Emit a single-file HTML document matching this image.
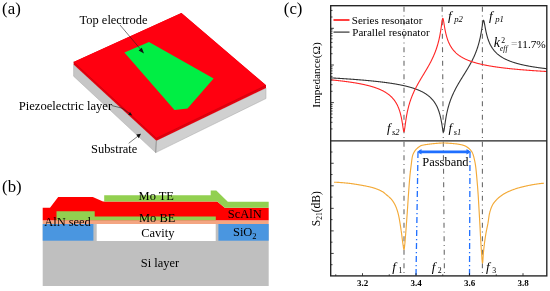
<!DOCTYPE html>
<html><head><meta charset="utf-8"><title>Figure</title>
<style>
html,body{margin:0;padding:0;background:#fff;}
svg{display:block;font-family:"Liberation Serif",serif;fill:#000;}
.lbl{font-size:16.8px;}
.t{font-size:12.45px;}
.it{font-style:italic;}
</style></head><body>
<svg width="550" height="291" viewBox="0 0 550 291">
<rect width="550" height="291" fill="#fff"/>

<!-- (a) 3D view -->
<g id="pa">
<polygon points="73.6,64.5 73.6,76.2 155.7,152.6 156.4,140.5" fill="#c6c6c6" stroke="#a8a8a8" stroke-width="0.5"/>
<polygon points="156.4,140.5 155.7,152.6 266,98.5 266,88" fill="#d0d0d0" stroke="#a8a8a8" stroke-width="0.5"/>
<polygon points="73.6,62 73.6,64.5 156.4,140.7 266,88 266,85.3 181.4,13" fill="#e2000d"/>
<polygon points="73.6,62 181.4,13 266,85.3 156.4,138.2" fill="#ff0010"/>
<polyline points="73.6,62 156.4,138.2 266,85.3" fill="none" stroke="#b8000c" stroke-width="0.5"/>
<polygon points="124.4,52.5 149,42 213.6,78.6 187.5,108.5 174.5,110" fill="#00ee44"/>
<line x1="156.4" y1="140.5" x2="155.7" y2="152.6" stroke="#808080" stroke-width="0.6"/>
<g stroke="#222" stroke-width="0.6" fill="none">
<line x1="120" y1="25" x2="142" y2="51"/>
<line x1="112" y1="105.6" x2="122" y2="108.2"/><line x1="122" y1="108.2" x2="130" y2="113.8"/>
<line x1="128.7" y1="143.3" x2="139" y2="135.3"/>
</g>
<polygon points="144,53.5 138.6,50.5 141.8,47.8" fill="#111"/>
<polygon points="132.3,115.6 128.2,114.8 130,112" fill="#111"/>
<polygon points="141,133.8 138.8,138.3 136.2,134.6" fill="#111"/>
<text class="lbl" x="2.1" y="13.6">(a)</text>
<text class="t" x="79.6" y="23.7">Top electrode</text>
<text class="t" x="18.7" y="110.1" style="font-size:12.62px">Piezoelectric layer</text>
<text class="t" x="91" y="153">Substrate</text>
</g>

<!-- (b) cross-section -->
<g id="pb">
<rect x="42.7" y="224" width="226" height="62" fill="#bfbfbf"/>
<rect x="42.7" y="224" width="50.7" height="16.7" fill="#4a96e0"/>
<rect x="218.4" y="224" width="50.3" height="16.7" fill="#4a96e0"/>
<rect x="96.7" y="224" width="119" height="17" fill="#fff"/>
<rect x="42.7" y="220.2" width="226" height="3.8" fill="#f4a582"/>
<!-- ScAlN red -->
<polygon points="42.7,220.2 42.7,207.8 50,207.8 58.2,197 92.8,197 103,201.6 217.2,201.6 224.8,207.8 268.7,207.8 268.7,220.2" fill="#ff0000"/>
<!-- Mo BE -->
<polygon points="56.5,220.2 56.5,211.2 94.7,211.2 94.7,216.6 215.8,216.6 215.8,220.2" fill="#92d050"/>
<!-- Mo TE -->
<polygon points="104.2,201.6 104.2,195.2 210.7,195.2 210.7,190.4 216.3,190.4 227.8,201.8 268.7,201.8 268.7,207.8 224.8,207.8 217.2,201.6" fill="#92d050"/>
<text class="lbl" x="2.1" y="191.6">(b)</text>
<text class="t" x="138.6" y="200">Mo TE</text>
<text class="t" x="139" y="222.2">Mo BE</text>
<text class="t" x="44.2" y="226.2">AlN seed</text>
<text class="t" x="227.8" y="218.3">ScAlN</text>
<text class="t" x="141.3" y="236.6">Cavity</text>
<text class="t" x="233" y="236.3">SiO<tspan font-size="8.5" dy="3">2</tspan></text>
<text class="t" x="140.8" y="267.3">Si layer</text>
</g>

<!-- (c) plots -->
<g id="pc">
<g stroke="#6a6a6a" stroke-width="1.1" stroke-dasharray="5 3.6 1.1 3.8" fill="none">
<line x1="404" x2="404" y1="6.8" y2="275.9"/>
<line x1="442.15" x2="444.45" y1="6.8" y2="275.9"/>
<line x1="482.4" x2="482.4" y1="6.8" y2="275.9"/>
</g>
<g stroke="#1f6fff" stroke-width="1.3" stroke-dasharray="6 3 1.2 2.8" fill="none">
<line x1="418" x2="416" y1="152" y2="275.9"/>
<line x1="470" x2="469.5" y1="152" y2="275.9"/>
</g>
<path d="M330.70,77.87 L330.94,77.88 L331.18,77.90 L331.42,77.91 L331.66,77.93 L331.90,77.94 L332.14,77.95 L332.38,77.97 L332.62,77.98 L332.86,78.00 L333.10,78.01 L333.34,78.02 L333.58,78.04 L333.82,78.05 L334.07,78.07 L334.31,78.08 L334.55,78.10 L334.79,78.11 L335.03,78.12 L335.27,78.14 L335.51,78.15 L335.75,78.17 L335.99,78.18 L336.23,78.20 L336.47,78.21 L336.71,78.23 L336.95,78.24 L337.19,78.26 L337.43,78.27 L337.67,78.29 L337.91,78.30 L338.15,78.31 L338.39,78.33 L338.63,78.34 L338.87,78.36 L339.11,78.37 L339.35,78.39 L339.59,78.40 L339.83,78.42 L340.07,78.44 L340.32,78.45 L340.56,78.47 L340.80,78.48 L341.04,78.50 L341.28,78.51 L341.52,78.53 L341.76,78.54 L342.00,78.56 L342.24,78.57 L342.48,78.59 L342.72,78.60 L342.96,78.62 L343.20,78.64 L343.44,78.65 L343.68,78.67 L343.92,78.68 L344.16,78.70 L344.40,78.72 L344.64,78.73 L344.88,78.75 L345.12,78.76 L345.36,78.78 L345.60,78.80 L345.84,78.81 L346.08,78.83 L346.32,78.84 L346.56,78.86 L346.81,78.88 L347.05,78.89 L347.29,78.91 L347.53,78.93 L347.77,78.94 L348.01,78.96 L348.25,78.98 L348.49,78.99 L348.73,79.01 L348.97,79.03 L349.21,79.04 L349.45,79.06 L349.69,79.08 L349.93,79.10 L350.17,79.11 L350.41,79.13 L350.65,79.15 L350.89,79.16 L351.13,79.18 L351.37,79.20 L351.61,79.22 L351.85,79.23 L352.09,79.25 L352.33,79.27 L352.57,79.29 L352.81,79.31 L353.06,79.32 L353.30,79.34 L353.54,79.36 L353.78,79.38 L354.02,79.39 L354.26,79.41 L354.50,79.43 L354.74,79.45 L354.98,79.47 L355.22,79.49 L355.46,79.50 L355.70,79.52 L355.94,79.54 L356.18,79.56 L356.42,79.58 L356.66,79.60 L356.90,79.62 L357.14,79.64 L357.38,79.65 L357.62,79.67 L357.86,79.69 L358.10,79.71 L358.34,79.73 L358.58,79.75 L358.82,79.77 L359.06,79.79 L359.31,79.81 L359.55,79.83 L359.79,79.85 L360.03,79.87 L360.27,79.89 L360.51,79.91 L360.75,79.93 L360.99,79.95 L361.23,79.97 L361.47,79.99 L361.71,80.01 L361.95,80.03 L362.19,80.05 L362.43,80.07 L362.67,80.09 L362.91,80.11 L363.15,80.13 L363.39,80.15 L363.63,80.17 L363.87,80.19 L364.11,80.21 L364.35,80.23 L364.59,80.26 L364.83,80.28 L365.07,80.30 L365.31,80.32 L365.55,80.34 L365.80,80.36 L366.04,80.38 L366.28,80.41 L366.52,80.43 L366.76,80.45 L367.00,80.47 L367.24,80.49 L367.48,80.52 L367.72,80.54 L367.96,80.56 L368.20,80.58 L368.44,80.61 L368.68,80.63 L368.92,80.65 L369.16,80.67 L369.40,80.70 L369.64,80.72 L369.88,80.74 L370.12,80.77 L370.36,80.79 L370.60,80.81 L370.84,80.84 L371.08,80.86 L371.32,80.88 L371.56,80.91 L371.80,80.93 L372.05,80.96 L372.29,80.98 L372.53,81.00 L372.77,81.03 L373.01,81.05 L373.25,81.08 L373.49,81.10 L373.73,81.13 L373.97,81.15 L374.21,81.18 L374.45,81.20 L374.69,81.23 L374.93,81.25 L375.17,81.28 L375.41,81.30 L375.65,81.33 L375.89,81.36 L376.13,81.38 L376.37,81.41 L376.61,81.43 L376.85,81.46 L377.09,81.49 L377.33,81.51 L377.57,81.54 L377.81,81.57 L378.05,81.60 L378.29,81.62 L378.54,81.65 L378.78,81.68 L379.02,81.70 L379.26,81.73 L379.50,81.76 L379.74,81.79 L379.98,81.82 L380.22,81.84 L380.46,81.87 L380.70,81.90 L380.94,81.93 L381.18,81.96 L381.42,81.99 L381.66,82.02 L381.90,82.05 L382.14,82.08 L382.38,82.11 L382.62,82.14 L382.86,82.17 L383.10,82.20 L383.34,82.23 L383.58,82.26 L383.82,82.29 L384.06,82.32 L384.30,82.35 L384.54,82.38 L384.79,82.41 L385.03,82.44 L385.27,82.48 L385.51,82.51 L385.75,82.54 L385.99,82.57 L386.23,82.60 L386.47,82.64 L386.71,82.67 L386.95,82.70 L387.19,82.74 L387.43,82.77 L387.67,82.80 L387.91,82.84 L388.15,82.87 L388.39,82.90 L388.63,82.94 L388.87,82.97 L389.11,83.01 L389.35,83.04 L389.59,83.08 L389.83,83.11 L390.07,83.15 L390.31,83.18 L390.55,83.22 L390.79,83.26 L391.03,83.29 L391.28,83.33 L391.52,83.37 L391.76,83.40 L392.00,83.44 L392.24,83.48 L392.48,83.52 L392.72,83.56 L392.96,83.59 L393.20,83.63 L393.44,83.67 L393.68,83.71 L393.92,83.75 L394.16,83.79 L394.40,83.83 L394.64,83.87 L394.88,83.91 L395.12,83.95 L395.36,83.99 L395.60,84.03 L395.84,84.08 L396.08,84.12 L396.32,84.16 L396.56,84.20 L396.80,84.25 L397.04,84.29 L397.28,84.33 L397.53,84.38 L397.77,84.42 L398.01,84.46 L398.25,84.51 L398.49,84.55 L398.73,84.60 L398.97,84.64 L399.21,84.69 L399.45,84.74 L399.69,84.78 L399.93,84.83 L400.17,84.88 L400.41,84.93 L400.65,84.97 L400.89,85.02 L401.13,85.07 L401.37,85.12 L401.61,85.17 L401.85,85.22 L402.09,85.27 L402.33,85.32 L402.57,85.37 L402.81,85.43 L403.05,85.48 L403.29,85.53 L403.53,85.58 L403.77,85.64 L404.02,85.69 L404.26,85.75 L404.50,85.80 L404.74,85.86 L404.98,85.91 L405.22,85.97 L405.46,86.02 L405.70,86.08 L405.94,86.14 L406.18,86.20 L406.42,86.26 L406.66,86.32 L406.90,86.38 L407.14,86.44 L407.38,86.50 L407.62,86.56 L407.86,86.62 L408.10,86.68 L408.34,86.75 L408.58,86.81 L408.82,86.87 L409.06,86.94 L409.30,87.00 L409.54,87.07 L409.78,87.14 L410.02,87.20 L410.27,87.27 L410.51,87.34 L410.75,87.41 L410.99,87.48 L411.23,87.55 L411.47,87.62 L411.71,87.70 L411.95,87.77 L412.19,87.84 L412.43,87.92 L412.67,87.99 L412.91,88.07 L413.15,88.15 L413.39,88.22 L413.63,88.30 L413.87,88.38 L414.11,88.46 L414.35,88.54 L414.59,88.63 L414.83,88.71 L415.07,88.79 L415.31,88.88 L415.55,88.96 L415.79,89.05 L416.03,89.14 L416.27,89.23 L416.52,89.32 L416.76,89.41 L417.00,89.50 L417.24,89.60 L417.48,89.69 L417.72,89.79 L417.96,89.88 L418.20,89.98 L418.44,90.08 L418.68,90.18 L418.92,90.28 L419.16,90.39 L419.40,90.49 L419.64,90.60 L419.88,90.70 L420.12,90.81 L420.36,90.92 L420.60,91.03 L420.84,91.15 L421.08,91.26 L421.32,91.38 L421.56,91.50 L421.80,91.62 L422.04,91.74 L422.28,91.86 L422.52,91.99 L422.76,92.11 L423.01,92.24 L423.25,92.37 L423.49,92.51 L423.73,92.64 L423.97,92.78 L424.21,92.92 L424.45,93.06 L424.69,93.20 L424.93,93.35 L425.17,93.50 L425.41,93.65 L425.65,93.80 L425.89,93.96 L426.13,94.12 L426.37,94.28 L426.61,94.44 L426.85,94.61 L427.09,94.78 L427.33,94.96 L427.57,95.13 L427.81,95.31 L428.05,95.50 L428.29,95.68 L428.53,95.88 L428.77,96.07 L429.01,96.27 L429.26,96.47 L429.50,96.68 L429.74,96.89 L429.98,97.11 L430.22,97.33 L430.46,97.55 L430.70,97.78 L430.94,98.02 L431.18,98.26 L431.42,98.51 L431.66,98.76 L431.90,99.02 L432.14,99.29 L432.38,99.56 L432.62,99.84 L432.86,100.12 L433.10,100.42 L433.34,100.72 L433.58,101.03 L433.82,101.35 L434.06,101.68 L434.30,102.02 L434.54,102.37 L434.78,102.72 L435.02,103.09 L435.26,103.48 L435.50,103.87 L435.75,104.28 L435.99,104.70 L436.23,105.14 L436.47,105.59 L436.71,106.06 L436.95,106.55 L437.19,107.06 L437.43,107.59 L437.67,108.14 L437.91,108.72 L438.15,109.32 L438.39,109.95 L438.63,110.61 L438.87,111.30 L439.11,112.02 L439.35,112.79 L439.59,113.60 L439.83,114.45 L440.07,115.36 L440.31,116.32 L440.55,117.34 L440.79,118.42 L441.03,119.58 L441.27,120.81 L441.51,122.13 L441.75,123.52 L442.00,124.99 L442.24,126.51 L442.48,128.05 L442.72,129.51 L442.96,130.79 L443.20,131.71 L443.44,132.10 L443.50,132.09 L443.68,131.85 L443.92,131.00 L444.16,129.69 L444.40,128.11 L444.64,126.41 L444.88,124.69 L445.12,123.01 L445.36,121.39 L445.60,119.84 L445.84,118.38 L446.08,116.99 L446.32,115.68 L446.56,114.44 L446.80,113.26 L447.04,112.14 L447.28,111.07 L447.52,110.05 L447.76,109.08 L448.00,108.14 L448.24,107.24 L448.49,106.38 L448.73,105.54 L448.97,104.74 L449.21,103.96 L449.45,103.20 L449.69,102.47 L449.93,101.76 L450.17,101.07 L450.41,100.40 L450.65,99.74 L450.89,99.10 L451.13,98.48 L451.37,97.87 L451.61,97.27 L451.85,96.68 L452.09,96.11 L452.33,95.55 L452.57,95.00 L452.81,94.46 L453.05,93.92 L453.29,93.40 L453.53,92.89 L453.77,92.38 L454.01,91.88 L454.25,91.39 L454.49,90.90 L454.74,90.42 L454.98,89.95 L455.22,89.48 L455.46,89.02 L455.70,88.56 L455.94,88.11 L456.18,87.66 L456.42,87.22 L456.66,86.78 L456.90,86.35 L457.14,85.92 L457.38,85.49 L457.62,85.07 L457.86,84.65 L458.10,84.23 L458.34,83.81 L458.58,83.40 L458.82,82.99 L459.06,82.59 L459.30,82.18 L459.54,81.78 L459.78,81.38 L460.02,80.98 L460.26,80.58 L460.50,80.19 L460.74,79.79 L460.98,79.40 L461.23,79.01 L461.47,78.62 L461.71,78.23 L461.95,77.84 L462.19,77.45 L462.43,77.07 L462.67,76.68 L462.91,76.29 L463.15,75.91 L463.39,75.52 L463.63,75.13 L463.87,74.75 L464.11,74.36 L464.35,73.98 L464.59,73.59 L464.83,73.20 L465.07,72.81 L465.31,72.43 L465.55,72.04 L465.79,71.65 L466.03,71.25 L466.27,70.86 L466.51,70.47 L466.75,70.07 L466.99,69.68 L467.23,69.28 L467.48,68.88 L467.72,68.47 L467.96,68.07 L468.20,67.66 L468.44,67.25 L468.68,66.84 L468.92,66.43 L469.16,66.01 L469.40,65.59 L469.64,65.17 L469.88,64.74 L470.12,64.31 L470.36,63.87 L470.60,63.44 L470.84,62.99 L471.08,62.55 L471.32,62.09 L471.56,61.64 L471.80,61.18 L472.04,60.71 L472.28,60.24 L472.52,59.76 L472.76,59.27 L473.00,58.78 L473.24,58.28 L473.48,57.77 L473.73,57.26 L473.97,56.74 L474.21,56.20 L474.45,55.66 L474.69,55.11 L474.93,54.55 L475.17,53.98 L475.41,53.40 L475.65,52.80 L475.89,52.19 L476.13,51.57 L476.37,50.93 L476.61,50.28 L476.85,49.61 L477.09,48.92 L477.33,48.21 L477.57,47.48 L477.81,46.73 L478.05,45.96 L478.29,45.16 L478.53,44.33 L478.77,43.47 L479.01,42.58 L479.25,41.66 L479.49,40.69 L479.73,39.69 L479.97,38.64 L480.22,37.54 L480.46,36.39 L480.70,35.18 L480.94,33.91 L481.18,32.58 L481.42,31.18 L481.66,29.72 L481.90,28.20 L482.14,26.65 L482.38,25.10 L482.62,23.60 L482.86,22.26 L483.10,21.18 L483.34,20.51 L483.50,20.33 L483.58,20.33 L483.82,20.66 L484.06,21.44 L484.30,22.52 L484.54,23.79 L484.78,25.15 L485.02,26.52 L485.26,27.86 L485.50,29.15 L485.74,30.38 L485.98,31.54 L486.22,32.65 L486.47,33.68 L486.71,34.67 L486.95,35.59 L487.19,36.47 L487.43,37.30 L487.67,38.09 L487.91,38.83 L488.15,39.55 L488.39,40.22 L488.63,40.87 L488.87,41.49 L489.11,42.08 L489.35,42.64 L489.59,43.19 L489.83,43.71 L490.07,44.21 L490.31,44.69 L490.55,45.16 L490.79,45.61 L491.03,46.04 L491.27,46.46 L491.51,46.86 L491.75,47.25 L491.99,47.63 L492.23,48.00 L492.47,48.36 L492.71,48.70 L492.96,49.04 L493.20,49.36 L493.44,49.68 L493.68,49.99 L493.92,50.29 L494.16,50.58 L494.40,50.87 L494.64,51.14 L494.88,51.41 L495.12,51.68 L495.36,51.93 L495.60,52.19 L495.84,52.43 L496.08,52.67 L496.32,52.91 L496.56,53.13 L496.80,53.36 L497.04,53.58 L497.28,53.79 L497.52,54.00 L497.76,54.21 L498.00,54.41 L498.24,54.61 L498.48,54.80 L498.72,54.99 L498.96,55.18 L499.21,55.36 L499.45,55.54 L499.69,55.72 L499.93,55.89 L500.17,56.06 L500.41,56.23 L500.65,56.39 L500.89,56.55 L501.13,56.71 L501.37,56.87 L501.61,57.02 L501.85,57.17 L502.09,57.32 L502.33,57.46 L502.57,57.60 L502.81,57.75 L503.05,57.88 L503.29,58.02 L503.53,58.15 L503.77,58.29 L504.01,58.42 L504.25,58.55 L504.49,58.67 L504.73,58.80 L504.97,58.92 L505.21,59.04 L505.45,59.16 L505.70,59.28 L505.94,59.39 L506.18,59.51 L506.42,59.62 L506.66,59.73 L506.90,59.84 L507.14,59.95 L507.38,60.06 L507.62,60.16 L507.86,60.26 L508.10,60.37 L508.34,60.47 L508.58,60.57 L508.82,60.67 L509.06,60.77 L509.30,60.86 L509.54,60.96 L509.78,61.05 L510.02,61.14 L510.26,61.23 L510.50,61.33 L510.74,61.42 L510.98,61.50 L511.22,61.59 L511.46,61.68 L511.70,61.76 L511.95,61.85 L512.19,61.93 L512.43,62.01 L512.67,62.10 L512.91,62.18 L513.15,62.26 L513.39,62.33 L513.63,62.41 L513.87,62.49 L514.11,62.57 L514.35,62.64 L514.59,62.72 L514.83,62.79 L515.07,62.86 L515.31,62.94 L515.55,63.01 L515.79,63.08 L516.03,63.15 L516.27,63.22 L516.51,63.29 L516.75,63.36 L516.99,63.42 L517.23,63.49 L517.47,63.56 L517.71,63.62 L517.95,63.69 L518.19,63.75 L518.44,63.82 L518.68,63.88 L518.92,63.94 L519.16,64.00 L519.40,64.07 L519.64,64.13 L519.88,64.19 L520.12,64.25 L520.36,64.31 L520.60,64.37 L520.84,64.42 L521.08,64.48 L521.32,64.54 L521.56,64.59 L521.80,64.65 L522.04,64.71 L522.28,64.76 L522.52,64.82 L522.76,64.87 L523.00,64.92 L523.24,64.98 L523.48,65.03 L523.72,65.08 L523.96,65.14 L524.20,65.19 L524.44,65.24 L524.69,65.29 L524.93,65.34 L525.17,65.39 L525.41,65.44 L525.65,65.49 L525.89,65.54 L526.13,65.59 L526.37,65.63 L526.61,65.68 L526.85,65.73 L527.09,65.77 L527.33,65.82 L527.57,65.87 L527.81,65.91 L528.05,65.96 L528.29,66.00 L528.53,66.05 L528.77,66.09 L529.01,66.14 L529.25,66.18 L529.49,66.22 L529.73,66.27 L529.97,66.31 L530.21,66.35 L530.45,66.40 L530.69,66.44 L530.94,66.48 L531.18,66.52 L531.42,66.56 L531.66,66.60 L531.90,66.64 L532.14,66.68 L532.38,66.72 L532.62,66.76 L532.86,66.80 L533.10,66.84 L533.34,66.88 L533.58,66.92 L533.82,66.96 L534.06,66.99 L534.30,67.03 L534.54,67.07 L534.78,67.11 L535.02,67.14 L535.26,67.18 L535.50,67.22 L535.74,67.25 L535.98,67.29 L536.22,67.33 L536.46,67.36 L536.70,67.40 L536.94,67.43 L537.18,67.47 L537.43,67.50 L537.67,67.54 L537.91,67.57 L538.15,67.60 L538.39,67.64 L538.63,67.67 L538.87,67.71 L539.11,67.74 L539.35,67.77 L539.59,67.80 L539.83,67.84 L540.07,67.87 L540.31,67.90 L540.55,67.93 L540.79,67.97 L541.03,68.00 L541.27,68.03 L541.51,68.06 L541.75,68.09 L541.99,68.12 L542.23,68.15 L542.47,68.18 L542.71,68.21 L542.95,68.25 L543.19,68.28 L543.43,68.31 L543.68,68.33 L543.92,68.36 L544.16,68.39 L544.40,68.42 L544.64,68.45 L544.88,68.48 L545.12,68.51 L545.36,68.54 L545.60,68.57 L545.84,68.60 L546.08,68.62 L546.32,68.65 L546.56,68.68 L546.80,68.71" fill="none" stroke="#333" stroke-width="1.1"/>
<path d="M330.70,79.83 L330.94,79.85 L331.18,79.87 L331.42,79.90 L331.66,79.92 L331.90,79.94 L332.14,79.97 L332.38,79.99 L332.62,80.01 L332.86,80.04 L333.10,80.06 L333.34,80.09 L333.58,80.11 L333.82,80.14 L334.07,80.16 L334.31,80.19 L334.55,80.21 L334.79,80.24 L335.03,80.26 L335.27,80.29 L335.51,80.31 L335.75,80.34 L335.99,80.36 L336.23,80.39 L336.47,80.41 L336.71,80.44 L336.95,80.46 L337.19,80.49 L337.43,80.52 L337.67,80.54 L337.91,80.57 L338.15,80.60 L338.39,80.62 L338.63,80.65 L338.87,80.68 L339.11,80.70 L339.35,80.73 L339.59,80.76 L339.83,80.79 L340.07,80.81 L340.32,80.84 L340.56,80.87 L340.80,80.90 L341.04,80.93 L341.28,80.95 L341.52,80.98 L341.76,81.01 L342.00,81.04 L342.24,81.07 L342.48,81.10 L342.72,81.13 L342.96,81.16 L343.20,81.19 L343.44,81.22 L343.68,81.25 L343.92,81.28 L344.16,81.31 L344.40,81.34 L344.64,81.37 L344.88,81.40 L345.12,81.43 L345.36,81.46 L345.60,81.49 L345.84,81.52 L346.08,81.56 L346.32,81.59 L346.56,81.62 L346.81,81.65 L347.05,81.68 L347.29,81.72 L347.53,81.75 L347.77,81.78 L348.01,81.82 L348.25,81.85 L348.49,81.88 L348.73,81.92 L348.97,81.95 L349.21,81.98 L349.45,82.02 L349.69,82.05 L349.93,82.09 L350.17,82.12 L350.41,82.16 L350.65,82.19 L350.89,82.23 L351.13,82.26 L351.37,82.30 L351.61,82.34 L351.85,82.37 L352.09,82.41 L352.33,82.45 L352.57,82.48 L352.81,82.52 L353.06,82.56 L353.30,82.60 L353.54,82.63 L353.78,82.67 L354.02,82.71 L354.26,82.75 L354.50,82.79 L354.74,82.83 L354.98,82.87 L355.22,82.91 L355.46,82.95 L355.70,82.99 L355.94,83.03 L356.18,83.07 L356.42,83.11 L356.66,83.15 L356.90,83.20 L357.14,83.24 L357.38,83.28 L357.62,83.32 L357.86,83.37 L358.10,83.41 L358.34,83.45 L358.58,83.50 L358.82,83.54 L359.06,83.59 L359.31,83.63 L359.55,83.68 L359.79,83.72 L360.03,83.77 L360.27,83.82 L360.51,83.86 L360.75,83.91 L360.99,83.96 L361.23,84.00 L361.47,84.05 L361.71,84.10 L361.95,84.15 L362.19,84.20 L362.43,84.25 L362.67,84.30 L362.91,84.35 L363.15,84.40 L363.39,84.45 L363.63,84.50 L363.87,84.56 L364.11,84.61 L364.35,84.66 L364.59,84.72 L364.83,84.77 L365.07,84.82 L365.31,84.88 L365.55,84.93 L365.80,84.99 L366.04,85.05 L366.28,85.10 L366.52,85.16 L366.76,85.22 L367.00,85.28 L367.24,85.34 L367.48,85.39 L367.72,85.45 L367.96,85.52 L368.20,85.58 L368.44,85.64 L368.68,85.70 L368.92,85.76 L369.16,85.83 L369.40,85.89 L369.64,85.95 L369.88,86.02 L370.12,86.09 L370.36,86.15 L370.60,86.22 L370.84,86.29 L371.08,86.35 L371.32,86.42 L371.56,86.49 L371.80,86.56 L372.05,86.63 L372.29,86.71 L372.53,86.78 L372.77,86.85 L373.01,86.93 L373.25,87.00 L373.49,87.08 L373.73,87.15 L373.97,87.23 L374.21,87.31 L374.45,87.39 L374.69,87.47 L374.93,87.55 L375.17,87.63 L375.41,87.71 L375.65,87.80 L375.89,87.88 L376.13,87.97 L376.37,88.05 L376.61,88.14 L376.85,88.23 L377.09,88.32 L377.33,88.41 L377.57,88.50 L377.81,88.59 L378.05,88.69 L378.29,88.78 L378.54,88.88 L378.78,88.98 L379.02,89.08 L379.26,89.18 L379.50,89.28 L379.74,89.38 L379.98,89.48 L380.22,89.59 L380.46,89.70 L380.70,89.81 L380.94,89.92 L381.18,90.03 L381.42,90.14 L381.66,90.25 L381.90,90.37 L382.14,90.49 L382.38,90.61 L382.62,90.73 L382.86,90.85 L383.10,90.98 L383.34,91.10 L383.58,91.23 L383.82,91.36 L384.06,91.49 L384.30,91.63 L384.54,91.76 L384.79,91.90 L385.03,92.04 L385.27,92.19 L385.51,92.33 L385.75,92.48 L385.99,92.63 L386.23,92.79 L386.47,92.94 L386.71,93.10 L386.95,93.26 L387.19,93.43 L387.43,93.59 L387.67,93.76 L387.91,93.94 L388.15,94.11 L388.39,94.29 L388.63,94.48 L388.87,94.67 L389.11,94.86 L389.35,95.05 L389.59,95.25 L389.83,95.45 L390.07,95.66 L390.31,95.87 L390.55,96.09 L390.79,96.31 L391.03,96.54 L391.28,96.77 L391.52,97.00 L391.76,97.24 L392.00,97.49 L392.24,97.75 L392.48,98.01 L392.72,98.27 L392.96,98.54 L393.20,98.83 L393.44,99.11 L393.68,99.41 L393.92,99.71 L394.16,100.02 L394.40,100.34 L394.64,100.68 L394.88,101.02 L395.12,101.37 L395.36,101.73 L395.60,102.10 L395.84,102.49 L396.08,102.88 L396.32,103.30 L396.56,103.72 L396.80,104.16 L397.04,104.62 L397.28,105.10 L397.53,105.59 L397.77,106.11 L398.01,106.64 L398.25,107.20 L398.49,107.78 L398.73,108.39 L398.97,109.03 L399.21,109.70 L399.45,110.41 L399.69,111.15 L399.93,111.93 L400.17,112.76 L400.41,113.63 L400.65,114.56 L400.89,115.55 L401.13,116.60 L401.37,117.72 L401.61,118.92 L401.85,120.21 L402.09,121.58 L402.33,123.03 L402.57,124.57 L402.81,126.16 L403.05,127.76 L403.29,129.27 L403.53,130.54 L403.77,131.37 L404.00,131.58 L404.02,131.58 L404.26,131.09 L404.50,129.99 L404.74,128.49 L404.98,126.76 L405.22,124.97 L405.46,123.19 L405.70,121.47 L405.94,119.83 L406.18,118.28 L406.42,116.81 L406.66,115.43 L406.90,114.12 L407.14,112.89 L407.38,111.71 L407.62,110.60 L407.86,109.54 L408.10,108.52 L408.34,107.55 L408.58,106.62 L408.82,105.72 L409.06,104.86 L409.30,104.03 L409.54,103.22 L409.78,102.44 L410.02,101.69 L410.27,100.96 L410.51,100.25 L410.75,99.56 L410.99,98.89 L411.23,98.23 L411.47,97.59 L411.71,96.97 L411.95,96.35 L412.19,95.76 L412.43,95.17 L412.67,94.59 L412.91,94.03 L413.15,93.48 L413.39,92.93 L413.63,92.40 L413.87,91.87 L414.11,91.35 L414.35,90.84 L414.59,90.34 L414.83,89.84 L415.07,89.35 L415.31,88.87 L415.55,88.39 L415.79,87.92 L416.03,87.46 L416.27,86.99 L416.52,86.54 L416.76,86.08 L417.00,85.64 L417.24,85.19 L417.48,84.75 L417.72,84.32 L417.96,83.88 L418.20,83.45 L418.44,83.03 L418.68,82.60 L418.92,82.18 L419.16,81.76 L419.40,81.34 L419.64,80.93 L419.88,80.52 L420.12,80.11 L420.36,79.70 L420.60,79.29 L420.84,78.89 L421.08,78.48 L421.32,78.08 L421.56,77.68 L421.80,77.28 L422.04,76.88 L422.28,76.48 L422.52,76.08 L422.76,75.68 L423.01,75.28 L423.25,74.88 L423.49,74.48 L423.73,74.09 L423.97,73.69 L424.21,73.29 L424.45,72.89 L424.69,72.49 L424.93,72.09 L425.17,71.69 L425.41,71.29 L425.65,70.89 L425.89,70.48 L426.13,70.08 L426.37,69.67 L426.61,69.26 L426.85,68.85 L427.09,68.44 L427.33,68.03 L427.57,67.61 L427.81,67.19 L428.05,66.77 L428.29,66.35 L428.53,65.92 L428.77,65.50 L429.01,65.06 L429.26,64.63 L429.50,64.19 L429.74,63.75 L429.98,63.30 L430.22,62.85 L430.46,62.39 L430.70,61.93 L430.94,61.47 L431.18,61.00 L431.42,60.52 L431.66,60.04 L431.90,59.55 L432.14,59.06 L432.38,58.56 L432.62,58.05 L432.86,57.53 L433.10,57.01 L433.34,56.48 L433.58,55.94 L433.82,55.39 L434.06,54.83 L434.30,54.26 L434.54,53.67 L434.78,53.08 L435.02,52.47 L435.26,51.85 L435.50,51.22 L435.75,50.57 L435.99,49.90 L436.23,49.22 L436.47,48.51 L436.71,47.79 L436.95,47.04 L437.19,46.28 L437.43,45.48 L437.67,44.66 L437.91,43.81 L438.15,42.93 L438.39,42.01 L438.63,41.05 L438.87,40.06 L439.11,39.01 L439.35,37.92 L439.59,36.77 L439.83,35.57 L440.07,34.29 L440.31,32.95 L440.55,31.53 L440.79,30.03 L441.03,28.46 L441.27,26.80 L441.51,25.09 L441.75,23.37 L442.00,21.70 L442.24,20.20 L442.48,19.05 L442.72,18.42 L442.80,18.35 L442.96,18.43 L443.20,19.04 L443.44,20.12 L443.68,21.49 L443.92,23.00 L444.16,24.53 L444.40,26.03 L444.64,27.47 L444.88,28.83 L445.12,30.11 L445.36,31.31 L445.60,32.44 L445.84,33.50 L446.08,34.49 L446.32,35.42 L446.56,36.31 L446.80,37.14 L447.04,37.93 L447.28,38.67 L447.52,39.38 L447.76,40.06 L448.00,40.70 L448.24,41.32 L448.49,41.91 L448.73,42.47 L448.97,43.01 L449.21,43.53 L449.45,44.03 L449.69,44.51 L449.93,44.97 L450.17,45.41 L450.41,45.84 L450.65,46.26 L450.89,46.66 L451.13,47.04 L451.37,47.42 L451.61,47.78 L451.85,48.14 L452.09,48.48 L452.33,48.81 L452.57,49.13 L452.81,49.45 L453.05,49.75 L453.29,50.05 L453.53,50.34 L453.77,50.62 L454.01,50.89 L454.25,51.16 L454.49,51.42 L454.74,51.68 L454.98,51.93 L455.22,52.17 L455.46,52.41 L455.70,52.64 L455.94,52.87 L456.18,53.09 L456.42,53.30 L456.66,53.52 L456.90,53.72 L457.14,53.93 L457.38,54.13 L457.62,54.32 L457.86,54.51 L458.10,54.70 L458.34,54.89 L458.58,55.07 L458.82,55.25 L459.06,55.42 L459.30,55.59 L459.54,55.76 L459.78,55.92 L460.02,56.08 L460.26,56.24 L460.50,56.40 L460.74,56.55 L460.98,56.70 L461.23,56.85 L461.47,57.00 L461.71,57.14 L461.95,57.28 L462.19,57.42 L462.43,57.56 L462.67,57.69 L462.91,57.83 L463.15,57.96 L463.39,58.09 L463.63,58.21 L463.87,58.34 L464.11,58.46 L464.35,58.58 L464.59,58.70 L464.83,58.82 L465.07,58.93 L465.31,59.05 L465.55,59.16 L465.79,59.27 L466.03,59.38 L466.27,59.49 L466.51,59.60 L466.75,59.70 L466.99,59.81 L467.23,59.91 L467.48,60.01 L467.72,60.11 L467.96,60.21 L468.20,60.31 L468.44,60.40 L468.68,60.50 L468.92,60.59 L469.16,60.69 L469.40,60.78 L469.64,60.87 L469.88,60.96 L470.12,61.05 L470.36,61.13 L470.60,61.22 L470.84,61.30 L471.08,61.39 L471.32,61.47 L471.56,61.55 L471.80,61.64 L472.04,61.72 L472.28,61.80 L472.52,61.88 L472.76,61.95 L473.00,62.03 L473.24,62.11 L473.48,62.18 L473.73,62.26 L473.97,62.33 L474.21,62.40 L474.45,62.48 L474.69,62.55 L474.93,62.62 L475.17,62.69 L475.41,62.76 L475.65,62.83 L475.89,62.89 L476.13,62.96 L476.37,63.03 L476.61,63.10 L476.85,63.16 L477.09,63.23 L477.33,63.29 L477.57,63.35 L477.81,63.42 L478.05,63.48 L478.29,63.54 L478.53,63.60 L478.77,63.66 L479.01,63.72 L479.25,63.78 L479.49,63.84 L479.73,63.90 L479.97,63.96 L480.22,64.01 L480.46,64.07 L480.70,64.13 L480.94,64.18 L481.18,64.24 L481.42,64.29 L481.66,64.35 L481.90,64.40 L482.14,64.46 L482.38,64.51 L482.62,64.56 L482.86,64.61 L483.10,64.67 L483.34,64.72 L483.58,64.77 L483.82,64.82 L484.06,64.87 L484.30,64.92 L484.54,64.97 L484.78,65.02 L485.02,65.06 L485.26,65.11 L485.50,65.16 L485.74,65.21 L485.98,65.25 L486.22,65.30 L486.47,65.35 L486.71,65.39 L486.95,65.44 L487.19,65.48 L487.43,65.53 L487.67,65.57 L487.91,65.62 L488.15,65.66 L488.39,65.71 L488.63,65.75 L488.87,65.79 L489.11,65.83 L489.35,65.88 L489.59,65.92 L489.83,65.96 L490.07,66.00 L490.31,66.04 L490.55,66.08 L490.79,66.12 L491.03,66.16 L491.27,66.20 L491.51,66.24 L491.75,66.28 L491.99,66.32 L492.23,66.36 L492.47,66.40 L492.71,66.44 L492.96,66.48 L493.20,66.51 L493.44,66.55 L493.68,66.59 L493.92,66.63 L494.16,66.66 L494.40,66.70 L494.64,66.73 L494.88,66.77 L495.12,66.81 L495.36,66.84 L495.60,66.88 L495.84,66.91 L496.08,66.95 L496.32,66.98 L496.56,67.02 L496.80,67.05 L497.04,67.09 L497.28,67.12 L497.52,67.15 L497.76,67.19 L498.00,67.22 L498.24,67.25 L498.48,67.29 L498.72,67.32 L498.96,67.35 L499.21,67.38 L499.45,67.42 L499.69,67.45 L499.93,67.48 L500.17,67.51 L500.41,67.54 L500.65,67.57 L500.89,67.60 L501.13,67.63 L501.37,67.67 L501.61,67.70 L501.85,67.73 L502.09,67.76 L502.33,67.79 L502.57,67.82 L502.81,67.85 L503.05,67.87 L503.29,67.90 L503.53,67.93 L503.77,67.96 L504.01,67.99 L504.25,68.02 L504.49,68.05 L504.73,68.08 L504.97,68.10 L505.21,68.13 L505.45,68.16 L505.70,68.19 L505.94,68.21 L506.18,68.24 L506.42,68.27 L506.66,68.30 L506.90,68.32 L507.14,68.35 L507.38,68.38 L507.62,68.40 L507.86,68.43 L508.10,68.46 L508.34,68.48 L508.58,68.51 L508.82,68.53 L509.06,68.56 L509.30,68.59 L509.54,68.61 L509.78,68.64 L510.02,68.66 L510.26,68.69 L510.50,68.71 L510.74,68.74 L510.98,68.76 L511.22,68.79 L511.46,68.81 L511.70,68.83 L511.95,68.86 L512.19,68.88 L512.43,68.91 L512.67,68.93 L512.91,68.95 L513.15,68.98 L513.39,69.00 L513.63,69.03 L513.87,69.05 L514.11,69.07 L514.35,69.10 L514.59,69.12 L514.83,69.14 L515.07,69.16 L515.31,69.19 L515.55,69.21 L515.79,69.23 L516.03,69.25 L516.27,69.28 L516.51,69.30 L516.75,69.32 L516.99,69.34 L517.23,69.36 L517.47,69.39 L517.71,69.41 L517.95,69.43 L518.19,69.45 L518.44,69.47 L518.68,69.49 L518.92,69.52 L519.16,69.54 L519.40,69.56 L519.64,69.58 L519.88,69.60 L520.12,69.62 L520.36,69.64 L520.60,69.66 L520.84,69.68 L521.08,69.70 L521.32,69.72 L521.56,69.74 L521.80,69.76 L522.04,69.78 L522.28,69.80 L522.52,69.82 L522.76,69.84 L523.00,69.86 L523.24,69.88 L523.48,69.90 L523.72,69.92 L523.96,69.94 L524.20,69.96 L524.44,69.98 L524.69,70.00 L524.93,70.02 L525.17,70.04 L525.41,70.06 L525.65,70.07 L525.89,70.09 L526.13,70.11 L526.37,70.13 L526.61,70.15 L526.85,70.17 L527.09,70.19 L527.33,70.20 L527.57,70.22 L527.81,70.24 L528.05,70.26 L528.29,70.28 L528.53,70.30 L528.77,70.31 L529.01,70.33 L529.25,70.35 L529.49,70.37 L529.73,70.39 L529.97,70.40 L530.21,70.42 L530.45,70.44 L530.69,70.46 L530.94,70.47 L531.18,70.49 L531.42,70.51 L531.66,70.52 L531.90,70.54 L532.14,70.56 L532.38,70.58 L532.62,70.59 L532.86,70.61 L533.10,70.63 L533.34,70.64 L533.58,70.66 L533.82,70.68 L534.06,70.69 L534.30,70.71 L534.54,70.73 L534.78,70.74 L535.02,70.76 L535.26,70.78 L535.50,70.79 L535.74,70.81 L535.98,70.82 L536.22,70.84 L536.46,70.86 L536.70,70.87 L536.94,70.89 L537.18,70.90 L537.43,70.92 L537.67,70.94 L537.91,70.95 L538.15,70.97 L538.39,70.98 L538.63,71.00 L538.87,71.01 L539.11,71.03 L539.35,71.04 L539.59,71.06 L539.83,71.07 L540.07,71.09 L540.31,71.10 L540.55,71.12 L540.79,71.14 L541.03,71.15 L541.27,71.17 L541.51,71.18 L541.75,71.20 L541.99,71.21 L542.23,71.22 L542.47,71.24 L542.71,71.25 L542.95,71.27 L543.19,71.28 L543.43,71.30 L543.68,71.31 L543.92,71.33 L544.16,71.34 L544.40,71.36 L544.64,71.37 L544.88,71.38 L545.12,71.40 L545.36,71.41 L545.60,71.43 L545.84,71.44 L546.08,71.46 L546.32,71.47 L546.56,71.48 L546.80,71.50" fill="none" stroke="#ff2525" stroke-width="1.1"/>
<path d="M334.00,182.20 L334.42,182.21 L334.84,182.23 L335.26,182.24 L335.68,182.26 L336.10,182.28 L336.52,182.30 L336.94,182.32 L337.36,182.34 L337.78,182.37 L338.20,182.39 L338.62,182.42 L339.04,182.44 L339.46,182.47 L339.88,182.50 L340.30,182.53 L340.72,182.56 L341.14,182.59 L341.56,182.62 L341.98,182.66 L342.40,182.69 L342.82,182.73 L343.24,182.76 L343.65,182.80 L344.07,182.83 L344.49,182.87 L344.91,182.91 L345.33,182.95 L345.74,182.98 L346.16,183.02 L346.58,183.06 L347.00,183.10 L347.41,183.14 L347.83,183.18 L348.25,183.22 L348.67,183.27 L349.08,183.31 L349.50,183.36 L349.92,183.41 L350.33,183.46 L350.75,183.52 L351.17,183.57 L351.58,183.63 L352.00,183.69 L352.42,183.75 L352.83,183.81 L353.25,183.87 L353.66,183.94 L354.08,184.00 L354.49,184.07 L354.91,184.13 L355.33,184.20 L355.74,184.27 L356.16,184.34 L356.57,184.41 L356.98,184.48 L357.40,184.55 L357.81,184.62 L358.23,184.69 L358.64,184.77 L359.06,184.84 L359.47,184.91 L359.88,184.98 L360.30,185.05 L360.71,185.12 L361.13,185.19 L361.54,185.27 L361.96,185.34 L362.37,185.41 L362.78,185.49 L363.20,185.56 L363.61,185.63 L364.03,185.71 L364.44,185.79 L364.86,185.87 L365.27,185.94 L365.68,186.02 L366.10,186.11 L366.51,186.19 L366.92,186.27 L367.33,186.36 L367.74,186.44 L368.15,186.53 L368.57,186.62 L368.97,186.71 L369.38,186.81 L369.79,186.90 L370.20,187.00 L370.60,187.10 L371.01,187.20 L371.42,187.31 L371.82,187.42 L372.23,187.53 L372.63,187.64 L373.03,187.76 L373.44,187.88 L373.84,188.01 L374.24,188.14 L374.64,188.27 L375.04,188.40 L375.44,188.54 L375.84,188.68 L376.24,188.82 L376.63,188.97 L377.02,189.12 L377.41,189.27 L377.80,189.42 L378.19,189.58 L378.58,189.74 L378.96,189.90 L379.35,190.07 L379.74,190.25 L380.12,190.43 L380.50,190.61 L380.88,190.80 L381.26,190.99 L381.63,191.19 L382.00,191.40 L382.36,191.61 L382.71,191.82 L383.07,192.04 L383.41,192.28 L383.74,192.53 L384.07,192.79 L384.40,193.06 L384.72,193.33 L385.04,193.61 L385.36,193.88 L385.68,194.15 L386.01,194.43 L386.33,194.70 L386.66,194.97 L386.99,195.24 L387.32,195.51 L387.65,195.78 L387.98,196.05 L388.30,196.33 L388.63,196.60 L388.95,196.88 L389.27,197.16 L389.59,197.45 L389.90,197.73 L390.20,198.02 L390.50,198.32 L390.79,198.61 L391.08,198.91 L391.35,199.22 L391.62,199.53 L391.88,199.85 L392.13,200.17 L392.37,200.49 L392.62,200.83 L392.85,201.17 L393.09,201.52 L393.32,201.87 L393.55,202.23 L393.77,202.59 L393.99,202.95 L394.20,203.32 L394.41,203.70 L394.62,204.07 L394.82,204.45 L395.01,204.83 L395.20,205.21 L395.38,205.60 L395.56,205.98 L395.73,206.36 L395.89,206.74 L396.05,207.13 L396.21,207.51 L396.36,207.90 L396.50,208.29 L396.65,208.68 L396.79,209.08 L396.93,209.47 L397.06,209.87 L397.19,210.28 L397.32,210.68 L397.45,211.08 L397.57,211.49 L397.69,211.89 L397.80,212.30 L397.92,212.71 L398.03,213.12 L398.14,213.53 L398.24,213.93 L398.34,214.34 L398.44,214.75 L398.54,215.16 L398.63,215.56 L398.72,215.97 L398.81,216.38 L398.89,216.79 L398.98,217.21 L399.06,217.62 L399.14,218.03 L399.22,218.44 L399.29,218.86 L399.37,219.27 L399.44,219.69 L399.51,220.10 L399.58,220.52 L399.65,220.93 L399.72,221.35 L399.79,221.76 L399.86,222.18 L399.93,222.59 L400.00,223.01 L400.07,223.42 L400.14,223.83 L400.21,224.25 L400.27,224.66 L400.34,225.08 L400.40,225.49 L400.47,225.91 L400.53,226.32 L400.60,226.74 L400.66,227.16 L400.72,227.57 L400.78,227.99 L400.84,228.40 L400.91,228.82 L400.97,229.23 L401.03,229.65 L401.09,230.07 L401.15,230.48 L401.20,230.90 L401.26,231.31 L401.32,231.73 L401.38,232.15 L401.44,232.56 L401.50,232.98 L401.55,233.40 L401.61,233.81 L401.67,234.23 L401.72,234.65 L401.77,235.06 L401.82,235.48 L401.88,235.90 L401.93,236.31 L401.98,236.73 L402.03,237.15 L402.08,237.57 L402.13,237.98 L402.18,238.40 L402.23,238.82 L402.28,239.24 L402.34,239.65 L402.39,240.07 L402.44,240.49 L402.50,240.90 L402.56,241.32 L402.61,241.73 L402.67,242.15 L402.73,242.57 L402.80,242.98 L402.86,243.42 L402.93,243.90 L403.00,244.41 L403.08,244.94 L403.16,245.49 L403.24,246.04 L403.32,246.59 L403.40,247.11 L403.48,247.61 L403.56,248.07 L403.64,248.48 L403.72,248.84 L403.80,249.13 L403.87,249.34 L403.94,249.47 L404.02,249.50 L404.09,249.39 L404.16,249.16 L404.23,248.82 L404.30,248.40 L404.37,247.92 L404.43,247.39 L404.50,246.84 L404.56,246.29 L404.62,245.76 L404.67,245.27 L404.72,244.84 L404.77,244.42 L404.81,244.01 L404.85,243.59 L404.90,243.17 L404.94,242.75 L404.98,242.33 L405.02,241.92 L405.05,241.50 L405.09,241.08 L405.12,240.66 L405.16,240.24 L405.19,239.82 L405.23,239.40 L405.26,238.98 L405.29,238.56 L405.33,238.14 L405.36,237.73 L405.39,237.31 L405.43,236.89 L405.46,236.47 L405.50,236.05 L405.53,235.63 L405.56,235.21 L405.60,234.79 L405.63,234.37 L405.67,233.96 L405.70,233.54 L405.73,233.12 L405.77,232.70 L405.80,232.28 L405.83,231.86 L405.86,231.44 L405.90,231.02 L405.93,230.60 L405.96,230.18 L405.99,229.77 L406.03,229.35 L406.06,228.93 L406.09,228.51 L406.12,228.09 L406.15,227.67 L406.18,227.25 L406.22,226.83 L406.25,226.41 L406.28,225.99 L406.31,225.58 L406.34,225.16 L406.37,224.74 L406.40,224.32 L406.43,223.90 L406.46,223.48 L406.50,223.06 L406.53,222.64 L406.56,222.22 L406.59,221.80 L406.62,221.38 L406.65,220.97 L406.68,220.55 L406.71,220.13 L406.74,219.71 L406.77,219.29 L406.80,218.87 L406.83,218.45 L406.86,218.03 L406.89,217.61 L406.92,217.19 L406.95,216.77 L406.98,216.36 L407.01,215.94 L407.04,215.52 L407.07,215.10 L407.10,214.68 L407.13,214.26 L407.16,213.84 L407.19,213.42 L407.22,213.00 L407.25,212.58 L407.28,212.16 L407.31,211.74 L407.34,211.33 L407.37,210.91 L407.40,210.49 L407.43,210.07 L407.46,209.65 L407.48,209.23 L407.51,208.81 L407.54,208.39 L407.57,207.97 L407.60,207.55 L407.63,207.13 L407.65,206.71 L407.68,206.29 L407.71,205.88 L407.74,205.46 L407.77,205.04 L407.79,204.62 L407.82,204.20 L407.85,203.78 L407.87,203.36 L407.90,202.94 L407.93,202.52 L407.96,202.10 L407.98,201.68 L408.01,201.26 L408.04,200.84 L408.06,200.42 L408.09,200.00 L408.12,199.59 L408.15,199.17 L408.17,198.75 L408.20,198.33 L408.23,197.91 L408.26,197.49 L408.29,197.07 L408.31,196.65 L408.34,196.23 L408.37,195.81 L408.40,195.39 L408.43,194.97 L408.46,194.55 L408.49,194.14 L408.52,193.72 L408.55,193.30 L408.58,192.88 L408.61,192.46 L408.64,192.04 L408.67,191.62 L408.70,191.20 L408.73,190.78 L408.76,190.36 L408.79,189.94 L408.82,189.52 L408.85,189.11 L408.88,188.69 L408.91,188.27 L408.94,187.85 L408.97,187.43 L409.00,187.01 L409.03,186.59 L409.06,186.17 L409.10,185.75 L409.13,185.33 L409.16,184.91 L409.19,184.49 L409.22,184.08 L409.25,183.66 L409.29,183.24 L409.32,182.82 L409.35,182.40 L409.39,181.98 L409.42,181.56 L409.45,181.14 L409.49,180.72 L409.52,180.31 L409.56,179.89 L409.59,179.47 L409.63,179.05 L409.67,178.63 L409.70,178.21 L409.74,177.79 L409.78,177.38 L409.82,176.96 L409.85,176.54 L409.89,176.12 L409.93,175.70 L409.97,175.28 L410.01,174.87 L410.05,174.45 L410.10,174.03 L410.14,173.61 L410.19,173.20 L410.23,172.78 L410.28,172.36 L410.33,171.94 L410.37,171.52 L410.42,171.11 L410.47,170.69 L410.52,170.27 L410.58,169.86 L410.63,169.44 L410.68,169.02 L410.73,168.60 L410.79,168.19 L410.84,167.77 L410.89,167.35 L410.95,166.94 L411.00,166.52 L411.06,166.10 L411.11,165.69 L411.16,165.27 L411.22,164.85 L411.27,164.44 L411.32,164.02 L411.37,163.60 L411.42,163.18 L411.47,162.76 L411.52,162.33 L411.57,161.91 L411.62,161.49 L411.67,161.07 L411.72,160.65 L411.77,160.23 L411.83,159.81 L411.89,159.39 L411.95,158.98 L412.01,158.56 L412.08,158.15 L412.15,157.74 L412.22,157.33 L412.30,156.92 L412.38,156.52 L412.47,156.12 L412.57,155.72 L412.69,155.32 L412.82,154.92 L412.97,154.52 L413.13,154.13 L413.31,153.74 L413.49,153.35 L413.68,152.97 L413.87,152.59 L414.07,152.23 L414.28,151.87 L414.49,151.51 L414.72,151.16 L414.96,150.81 L415.22,150.46 L415.48,150.12 L415.75,149.80 L416.03,149.48 L416.32,149.18 L416.61,148.89 L416.91,148.61 L417.22,148.32 L417.53,148.03 L417.86,147.74 L418.20,147.46 L418.54,147.18 L418.88,146.92 L419.24,146.66 L419.60,146.42 L419.96,146.20 L420.33,146.00 L420.70,145.81 L421.07,145.65 L421.44,145.52 L421.82,145.40 L422.21,145.30 L422.60,145.20 L423.00,145.11 L423.41,145.02 L423.83,144.94 L424.24,144.86 L424.66,144.79 L425.09,144.72 L425.51,144.65 L425.94,144.59 L426.36,144.53 L426.79,144.47 L427.21,144.41 L427.63,144.35 L428.05,144.29 L428.46,144.23 L428.88,144.18 L429.30,144.12 L429.71,144.07 L430.13,144.01 L430.55,143.96 L430.96,143.91 L431.38,143.86 L431.80,143.81 L432.22,143.76 L432.64,143.72 L433.05,143.68 L433.47,143.63 L433.89,143.59 L434.31,143.56 L434.73,143.52 L435.15,143.49 L435.57,143.45 L435.98,143.42 L436.40,143.39 L436.82,143.35 L437.24,143.32 L437.66,143.29 L438.08,143.25 L438.50,143.22 L438.92,143.19 L439.34,143.16 L439.76,143.13 L440.18,143.11 L440.60,143.08 L441.02,143.06 L441.44,143.04 L441.86,143.03 L442.28,143.02 L442.70,143.01 L443.12,143.00 L443.54,143.00 L443.96,143.00 L444.38,143.01 L444.80,143.02 L445.22,143.03 L445.64,143.05 L446.06,143.07 L446.48,143.09 L446.90,143.11 L447.31,143.14 L447.73,143.17 L448.15,143.19 L448.57,143.22 L448.99,143.25 L449.41,143.28 L449.83,143.32 L450.25,143.35 L450.67,143.38 L451.09,143.41 L451.51,143.44 L451.93,143.47 L452.35,143.50 L452.77,143.54 L453.19,143.57 L453.61,143.61 L454.02,143.65 L454.44,143.70 L454.86,143.74 L455.28,143.79 L455.70,143.83 L456.11,143.89 L456.53,143.94 L456.94,143.99 L457.36,144.05 L457.78,144.11 L458.20,144.17 L458.62,144.24 L459.04,144.31 L459.46,144.38 L459.88,144.46 L460.29,144.54 L460.71,144.63 L461.13,144.72 L461.54,144.81 L461.95,144.91 L462.35,145.02 L462.76,145.12 L463.15,145.24 L463.55,145.35 L463.93,145.48 L464.32,145.61 L464.70,145.76 L465.09,145.93 L465.47,146.11 L465.85,146.31 L466.23,146.52 L466.60,146.74 L466.97,146.97 L467.33,147.21 L467.68,147.46 L468.02,147.71 L468.36,147.97 L468.68,148.23 L468.99,148.49 L469.29,148.76 L469.59,149.04 L469.89,149.34 L470.18,149.65 L470.47,149.97 L470.76,150.30 L471.03,150.64 L471.29,150.98 L471.55,151.33 L471.78,151.69 L472.01,152.05 L472.21,152.41 L472.40,152.78 L472.56,153.14 L472.72,153.51 L472.86,153.89 L473.01,154.27 L473.14,154.67 L473.27,155.06 L473.39,155.47 L473.51,155.87 L473.62,156.29 L473.73,156.70 L473.84,157.12 L473.94,157.53 L474.04,157.95 L474.13,158.37 L474.23,158.79 L474.32,159.20 L474.41,159.61 L474.51,160.02 L474.60,160.43 L474.68,160.84 L474.77,161.25 L474.86,161.67 L474.94,162.08 L475.02,162.49 L475.10,162.91 L475.17,163.32 L475.25,163.73 L475.32,164.15 L475.39,164.56 L475.45,164.98 L475.51,165.39 L475.57,165.81 L475.63,166.23 L475.68,166.64 L475.74,167.06 L475.79,167.47 L475.84,167.89 L475.89,168.31 L475.94,168.72 L475.99,169.14 L476.03,169.56 L476.08,169.98 L476.12,170.39 L476.17,170.81 L476.21,171.23 L476.25,171.65 L476.29,172.07 L476.33,172.49 L476.37,172.90 L476.41,173.32 L476.45,173.74 L476.49,174.16 L476.53,174.58 L476.56,175.00 L476.60,175.42 L476.64,175.84 L476.67,176.26 L476.71,176.67 L476.75,177.09 L476.78,177.51 L476.82,177.93 L476.86,178.35 L476.89,178.77 L476.93,179.19 L476.97,179.61 L477.00,180.02 L477.04,180.44 L477.08,180.86 L477.11,181.28 L477.15,181.70 L477.18,182.12 L477.22,182.54 L477.25,182.96 L477.29,183.37 L477.32,183.79 L477.36,184.21 L477.39,184.63 L477.43,185.05 L477.46,185.47 L477.50,185.89 L477.53,186.31 L477.56,186.72 L477.60,187.14 L477.63,187.56 L477.66,187.98 L477.69,188.40 L477.73,188.82 L477.76,189.24 L477.79,189.66 L477.82,190.08 L477.85,190.50 L477.88,190.92 L477.91,191.33 L477.94,191.75 L477.97,192.17 L478.00,192.59 L478.03,193.01 L478.06,193.43 L478.09,193.85 L478.12,194.27 L478.15,194.69 L478.17,195.11 L478.20,195.53 L478.23,195.95 L478.26,196.36 L478.28,196.78 L478.31,197.20 L478.34,197.62 L478.36,198.04 L478.39,198.46 L478.41,198.88 L478.44,199.30 L478.46,199.72 L478.49,200.14 L478.51,200.56 L478.54,200.98 L478.56,201.40 L478.59,201.82 L478.61,202.24 L478.64,202.66 L478.66,203.08 L478.68,203.50 L478.71,203.91 L478.73,204.33 L478.76,204.75 L478.78,205.17 L478.80,205.59 L478.83,206.01 L478.85,206.43 L478.88,206.85 L478.90,207.27 L478.92,207.69 L478.95,208.11 L478.97,208.53 L479.00,208.95 L479.02,209.37 L479.05,209.79 L479.07,210.21 L479.10,210.63 L479.12,211.05 L479.14,211.47 L479.17,211.89 L479.19,212.31 L479.22,212.72 L479.24,213.14 L479.27,213.56 L479.29,213.98 L479.31,214.40 L479.34,214.82 L479.36,215.24 L479.39,215.66 L479.41,216.08 L479.43,216.50 L479.46,216.92 L479.48,217.34 L479.51,217.76 L479.53,218.18 L479.55,218.60 L479.58,219.02 L479.60,219.44 L479.62,219.86 L479.65,220.28 L479.67,220.70 L479.70,221.12 L479.72,221.53 L479.74,221.95 L479.77,222.37 L479.79,222.79 L479.81,223.21 L479.83,223.63 L479.86,224.05 L479.88,224.47 L479.90,224.89 L479.92,225.31 L479.95,225.73 L479.97,226.15 L479.99,226.57 L480.01,226.99 L480.03,227.41 L480.06,227.83 L480.08,228.25 L480.10,228.67 L480.12,229.09 L480.14,229.51 L480.16,229.93 L480.19,230.35 L480.21,230.77 L480.23,231.19 L480.25,231.61 L480.27,232.03 L480.30,232.45 L480.32,232.86 L480.34,233.28 L480.36,233.70 L480.38,234.12 L480.41,234.54 L480.43,234.96 L480.45,235.38 L480.48,235.80 L480.50,236.22 L480.52,236.64 L480.55,237.06 L480.57,237.48 L480.59,237.90 L480.62,238.32 L480.64,238.74 L480.67,239.16 L480.69,239.58 L480.72,240.00 L480.74,240.42 L480.77,240.84 L480.79,241.26 L480.82,241.68 L480.84,242.09 L480.87,242.51 L480.89,242.93 L480.92,243.35 L480.94,243.77 L480.97,244.19 L481.00,244.61 L481.02,245.03 L481.05,245.45 L481.07,245.87 L481.10,246.29 L481.13,246.71 L481.16,247.13 L481.18,247.55 L481.21,247.97 L481.24,248.39 L481.27,248.80 L481.30,249.22 L481.33,249.64 L481.36,250.06 L481.39,250.48 L481.42,250.90 L481.45,251.32 L481.48,251.74 L481.51,252.16 L481.54,252.60 L481.58,253.08 L481.61,253.57 L481.65,254.09 L481.68,254.62 L481.72,255.16 L481.76,255.71 L481.79,256.27 L481.83,256.83 L481.87,257.38 L481.91,257.93 L481.95,258.47 L481.99,259.00 L482.03,259.51 L482.07,260.00 L482.11,260.46 L482.15,260.90 L482.19,261.31 L482.23,261.68 L482.27,262.01 L482.31,262.30 L482.35,262.55 L482.39,262.75 L482.43,262.89 L482.47,262.97 L482.50,263.00 L482.54,262.96 L482.58,262.87 L482.62,262.71 L482.65,262.51 L482.69,262.25 L482.73,261.96 L482.76,261.61 L482.80,261.24 L482.84,260.82 L482.87,260.38 L482.91,259.91 L482.95,259.42 L482.99,258.90 L483.02,258.37 L483.06,257.83 L483.10,257.28 L483.13,256.72 L483.17,256.16 L483.21,255.61 L483.25,255.06 L483.29,254.52 L483.33,253.99 L483.37,253.48 L483.41,252.99 L483.45,252.52 L483.49,252.08 L483.53,251.66 L483.58,251.25 L483.62,250.83 L483.66,250.41 L483.70,249.99 L483.75,249.57 L483.79,249.16 L483.84,248.74 L483.88,248.32 L483.93,247.90 L483.97,247.48 L484.02,247.07 L484.06,246.65 L484.11,246.23 L484.16,245.81 L484.21,245.40 L484.26,244.98 L484.31,244.56 L484.36,244.14 L484.41,243.73 L484.46,243.31 L484.51,242.89 L484.57,242.48 L484.62,242.06 L484.68,241.64 L484.73,241.23 L484.79,240.81 L484.85,240.40 L484.91,239.98 L484.97,239.56 L485.03,239.15 L485.09,238.73 L485.15,238.31 L485.21,237.90 L485.27,237.48 L485.34,237.07 L485.40,236.65 L485.47,236.24 L485.53,235.82 L485.60,235.41 L485.67,234.99 L485.73,234.58 L485.80,234.16 L485.87,233.75 L485.94,233.34 L486.01,232.92 L486.09,232.51 L486.16,232.09 L486.24,231.68 L486.32,231.27 L486.40,230.86 L486.48,230.45 L486.57,230.03 L486.65,229.62 L486.74,229.21 L486.82,228.80 L486.91,228.39 L487.00,227.98 L487.09,227.57 L487.17,227.15 L487.26,226.74 L487.35,226.33 L487.43,225.92 L487.52,225.51 L487.60,225.10 L487.68,224.68 L487.76,224.27 L487.84,223.86 L487.92,223.45 L487.99,223.03 L488.07,222.62 L488.13,222.20 L488.20,221.79 L488.26,221.37 L488.32,220.95 L488.38,220.54 L488.44,220.12 L488.50,219.70 L488.56,219.28 L488.62,218.86 L488.67,218.44 L488.73,218.03 L488.79,217.61 L488.85,217.19 L488.91,216.78 L488.97,216.36 L489.04,215.95 L489.11,215.53 L489.18,215.12 L489.25,214.71 L489.33,214.30 L489.42,213.89 L489.50,213.49 L489.60,213.08 L489.69,212.67 L489.80,212.26 L489.90,211.85 L490.02,211.44 L490.13,211.04 L490.26,210.63 L490.38,210.22 L490.51,209.81 L490.65,209.40 L490.79,209.00 L490.94,208.60 L491.08,208.20 L491.24,207.81 L491.40,207.41 L491.56,207.02 L491.72,206.64 L491.89,206.26 L492.07,205.88 L492.24,205.51 L492.42,205.15 L492.61,204.79 L492.81,204.44 L493.02,204.08 L493.25,203.74 L493.48,203.39 L493.73,203.05 L493.98,202.71 L494.24,202.38 L494.51,202.05 L494.79,201.72 L495.07,201.39 L495.35,201.07 L495.64,200.75 L495.93,200.44 L496.22,200.13 L496.51,199.82 L496.80,199.51 L497.09,199.21 L497.38,198.91 L497.68,198.62 L497.98,198.32 L498.29,198.04 L498.61,197.76 L498.92,197.48 L499.25,197.21 L499.57,196.94 L499.90,196.68 L500.23,196.42 L500.56,196.17 L500.90,195.92 L501.24,195.68 L501.59,195.43 L501.93,195.19 L502.28,194.96 L502.64,194.73 L502.99,194.50 L503.35,194.27 L503.71,194.05 L504.07,193.84 L504.43,193.62 L504.80,193.42 L505.16,193.21 L505.53,193.01 L505.90,192.82 L506.27,192.62 L506.65,192.43 L507.02,192.25 L507.40,192.06 L507.78,191.88 L508.17,191.71 L508.55,191.53 L508.94,191.36 L509.32,191.19 L509.71,191.03 L510.09,190.86 L510.48,190.70 L510.87,190.54 L511.26,190.38 L511.65,190.22 L512.04,190.07 L512.43,189.92 L512.83,189.77 L513.22,189.63 L513.62,189.48 L514.01,189.34 L514.41,189.20 L514.81,189.07 L515.20,188.93 L515.60,188.80 L516.00,188.67 L516.40,188.54 L516.80,188.42 L517.21,188.29 L517.61,188.17 L518.01,188.05 L518.42,187.94 L518.82,187.82 L519.22,187.71 L519.63,187.60 L520.04,187.49 L520.44,187.38 L520.85,187.28 L521.25,187.17 L521.66,187.07 L522.07,186.97 L522.48,186.87 L522.88,186.77 L523.29,186.67 L523.70,186.57 L524.11,186.47 L524.52,186.37 L524.93,186.28 L525.34,186.19 L525.75,186.09 L526.16,186.00 L526.57,185.91 L526.98,185.82 L527.39,185.73 L527.81,185.64 L528.22,185.56 L528.63,185.47 L529.04,185.39 L529.45,185.31 L529.86,185.23 L530.28,185.15 L530.69,185.07 L531.10,184.99 L531.51,184.91 L531.93,184.83 L532.34,184.76 L532.75,184.68 L533.17,184.61 L533.58,184.54 L534.00,184.46 L534.41,184.39 L534.83,184.33 L535.24,184.26 L535.66,184.20 L536.07,184.13 L536.49,184.07 L536.90,184.01 L537.32,183.96 L537.74,183.90 L538.15,183.85 L538.57,183.79 L538.98,183.74 L539.40,183.69 L539.82,183.64 L540.24,183.59 L540.65,183.54 L541.07,183.49 L541.49,183.44 L541.91,183.40 L542.32,183.36 L542.74,183.32 L543.16,183.28 L543.58,183.24 L544.00,183.20" fill="none" stroke="#f3aa38" stroke-width="1.15"/>
<line x1="419" x2="469" y1="151.8" y2="151.8" stroke="#1f6fff" stroke-width="2.8"/>
<polygon points="417.2,151.8 421.5,149 421.5,154.6" fill="#1f6fff"/>
<polygon points="470.9,151.8 466.5,149 466.5,154.6" fill="#1f6fff"/>
<g stroke="#111" stroke-width="0.8"><line x1="330.7" x2="333.9" y1="28.3" y2="28.3"/><line x1="330.7" x2="333.9" y1="65.0" y2="65.0"/><line x1="330.7" x2="333.9" y1="102.6" y2="102.6"/><line x1="330.7" x2="332.5" y1="17.01" y2="17.01"/><line x1="330.7" x2="332.5" y1="10.41" y2="10.41"/><line x1="330.7" x2="332.5" y1="53.71" y2="53.71"/><line x1="330.7" x2="332.5" y1="47.11" y2="47.11"/><line x1="330.7" x2="332.5" y1="42.42" y2="42.42"/><line x1="330.7" x2="332.5" y1="38.79" y2="38.79"/><line x1="330.7" x2="332.5" y1="35.82" y2="35.82"/><line x1="330.7" x2="332.5" y1="33.31" y2="33.31"/><line x1="330.7" x2="332.5" y1="31.13" y2="31.13"/><line x1="330.7" x2="332.5" y1="29.22" y2="29.22"/><line x1="330.7" x2="332.5" y1="91.31" y2="91.31"/><line x1="330.7" x2="332.5" y1="84.71" y2="84.71"/><line x1="330.7" x2="332.5" y1="80.02" y2="80.02"/><line x1="330.7" x2="332.5" y1="76.39" y2="76.39"/><line x1="330.7" x2="332.5" y1="73.42" y2="73.42"/><line x1="330.7" x2="332.5" y1="70.91" y2="70.91"/><line x1="330.7" x2="332.5" y1="68.73" y2="68.73"/><line x1="330.7" x2="332.5" y1="66.82" y2="66.82"/><line x1="330.7" x2="332.5" y1="128.91" y2="128.91"/><line x1="330.7" x2="332.5" y1="122.31" y2="122.31"/><line x1="330.7" x2="332.5" y1="117.62" y2="117.62"/><line x1="330.7" x2="332.5" y1="113.99" y2="113.99"/><line x1="330.7" x2="332.5" y1="111.02" y2="111.02"/><line x1="330.7" x2="332.5" y1="108.51" y2="108.51"/><line x1="330.7" x2="332.5" y1="106.33" y2="106.33"/><line x1="330.7" x2="332.5" y1="104.42" y2="104.42"/><line x1="330.7" x2="332.5" y1="152.00" y2="152.00"/><line x1="330.7" x2="333.7" y1="163.27" y2="163.27"/><line x1="330.7" x2="332.5" y1="174.54" y2="174.54"/><line x1="330.7" x2="333.7" y1="185.81" y2="185.81"/><line x1="330.7" x2="332.5" y1="197.08" y2="197.08"/><line x1="330.7" x2="333.7" y1="208.35" y2="208.35"/><line x1="330.7" x2="332.5" y1="219.62" y2="219.62"/><line x1="330.7" x2="333.7" y1="230.89" y2="230.89"/><line x1="330.7" x2="332.5" y1="242.16" y2="242.16"/><line x1="330.7" x2="333.7" y1="253.43" y2="253.43"/><line x1="330.7" x2="332.5" y1="264.70" y2="264.70"/><line x1="335.75" x2="335.75" y1="275.9" y2="274.29999999999995"/><line x1="362.50" x2="362.50" y1="275.9" y2="273.2"/><line x1="389.25" x2="389.25" y1="275.9" y2="274.29999999999995"/><line x1="416.00" x2="416.00" y1="275.9" y2="273.2"/><line x1="442.75" x2="442.75" y1="275.9" y2="274.29999999999995"/><line x1="469.50" x2="469.50" y1="275.9" y2="273.2"/><line x1="496.25" x2="496.25" y1="275.9" y2="274.29999999999995"/><line x1="523.00" x2="523.00" y1="275.9" y2="273.2"/></g>
<rect x="330.7" y="5.7" width="216.09999999999997" height="270.2" fill="none" stroke="#222" stroke-width="1.35"/>
<line x1="330.7" x2="546.8" y1="140.9" y2="140.9" stroke="#222" stroke-width="1.35"/>
<line x1="333.5" x2="349.5" y1="20" y2="20" stroke="#ff2a2a" stroke-width="1.8"/>
<line x1="333.5" x2="349.5" y1="32.1" y2="32.1" stroke="#333" stroke-width="1.2"/>
<text x="351.8" y="23.5" font-size="11">Series resonator</text>
<text x="352.3" y="35.5" font-size="11">Parallel resonator</text>
<text class="lbl" x="283.8" y="13.6">(c)</text>
<text font-size="11.3" transform="translate(320,107.8) rotate(-90)">Impedance(Ω)</text>
<text font-size="11.6" transform="translate(319.5,226.3) rotate(-90)">S<tspan font-size="7.5" dy="2.2">21</tspan><tspan dy="-2.2">(dB)</tspan></text>
<text class="it" x="447.9" y="19.7" font-size="13.2">f<tspan font-size="8.7" dy="2.2" dx="2.6">p2</tspan></text>
<text class="it" x="488.9" y="20.2" font-size="13.2">f<tspan font-size="8.7" dy="2.2" dx="2.6">p1</tspan></text>
<text class="it" x="387" y="132.3" font-size="13">f<tspan font-size="8.5" dy="2.5" dx="1.4">s2</tspan></text>
<text class="it" x="448.4" y="132.3" font-size="13">f<tspan font-size="8.5" dy="2.5" dx="1.6">s1</tspan></text>
<text class="it" x="493.7" y="47.3" font-size="14">k</text>
<text x="501.2" y="42.7" font-size="7.7">2</text>
<text class="it" x="500" y="51.3" font-size="7.6">eff</text>
<text x="511" y="47.3" font-size="11.3" fill="#888">=</text>
<text x="517" y="47.6" font-size="11.3">11.7%</text>
<text x="422.3" y="166.2" font-size="12.45">Passband</text>
<text class="it" x="392.3" y="271.2" font-size="13.3">f<tspan font-style="normal" font-size="7.8" dy="2.2" dx="2.4">1</tspan></text>
<text class="it" x="431.7" y="271.2" font-size="13.3">f<tspan font-style="normal" font-size="7.8" dy="2.2" dx="2.4">2</tspan></text>
<text class="it" x="486.1" y="271.2" font-size="13.3">f<tspan font-style="normal" font-size="7.8" dy="2.2" dx="2.4">3</tspan></text>
<g font-size="9" font-weight="bold"><text x="362.5" y="286" text-anchor="middle">3.2</text><text x="416.0" y="286" text-anchor="middle">3.4</text><text x="469.5" y="286" text-anchor="middle">3.6</text><text x="523.0" y="286" text-anchor="middle">3.8</text></g>
</g>
</svg>
</body></html>
